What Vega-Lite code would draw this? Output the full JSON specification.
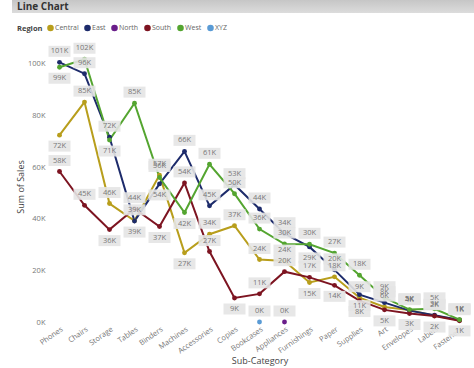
{
  "$schema": "https://vega.github.io/schema/vega-lite/v6.json",
  "padding": {"left": 9, "top": 0, "right": 0, "bottom": 0},
  "spacing": 29,
  "background": "white",
  "config": {
    "font": "Open Sans",
    "view": {"stroke": null}
  },
  "vconcat": [
    {
      "width": 465,
      "height": 13,
      "data": {"values": [{"t": "Line Chart"}]},
      "mark": {"type": "rect", "color": {"gradient": "linear", "x1": 0, "y1": 0, "x2": 0, "y2": 1,
        "stops": [{"offset": 0, "color": "#c6c6c6"}, {"offset": 1, "color": "#dcdcdc"}]}},
      "title": {"text": "Line Chart", "anchor": "start", "orient": "top", "frame": "group", "offset": -12, "dx": 5,
        "baseline": "top", "fontSize": 10, "fontWeight": "bold", "color": "#333", "font": "Open Sans"}
    },
    {
      "spacing": 0,
      "hconcat": [
        {
          "width": 1,
          "height": 271,
          "data": {"values": [{}]},
          "mark": {"type": "point", "opacity": 0}
        },
        {
          "width": 425,
          "height": 271,
          "data": {"values": [
            {"Region": "Central", "SubCategory": "Phones", "Sales": 72400},
            {"Region": "Central", "SubCategory": "Chairs", "Sales": 85200},
            {"Region": "Central", "SubCategory": "Storage", "Sales": 45900},
            {"Region": "Central", "SubCategory": "Tables", "Sales": 39200},
            {"Region": "Central", "SubCategory": "Binders", "Sales": 56900},
            {"Region": "Central", "SubCategory": "Machines", "Sales": 26800},
            {"Region": "Central", "SubCategory": "Accessories", "Sales": 34000},
            {"Region": "Central", "SubCategory": "Copies", "Sales": 37300},
            {"Region": "Central", "SubCategory": "Bookcases", "Sales": 24200},
            {"Region": "Central", "SubCategory": "Appliances", "Sales": 23600},
            {"Region": "Central", "SubCategory": "Furnishings", "Sales": 15300},
            {"Region": "Central", "SubCategory": "Paper", "Sales": 17500},
            {"Region": "Central", "SubCategory": "Supplies", "Sales": 9400},
            {"Region": "Central", "SubCategory": "Art", "Sales": 5800},
            {"Region": "Central", "SubCategory": "Envelopes", "Sales": 4600},
            {"Region": "Central", "SubCategory": "Labels", "Sales": 2400},
            {"Region": "Central", "SubCategory": "Fasteners", "Sales": 800},
            {"Region": "East", "SubCategory": "Phones", "Sales": 100600},
            {"Region": "East", "SubCategory": "Chairs", "Sales": 96200},
            {"Region": "East", "SubCategory": "Storage", "Sales": 71600},
            {"Region": "East", "SubCategory": "Tables", "Sales": 39100},
            {"Region": "East", "SubCategory": "Binders", "Sales": 53500},
            {"Region": "East", "SubCategory": "Machines", "Sales": 66100},
            {"Region": "East", "SubCategory": "Accessories", "Sales": 45000},
            {"Region": "East", "SubCategory": "Copies", "Sales": 53200},
            {"Region": "East", "SubCategory": "Bookcases", "Sales": 43800},
            {"Region": "East", "SubCategory": "Appliances", "Sales": 34200},
            {"Region": "East", "SubCategory": "Furnishings", "Sales": 29100},
            {"Region": "East", "SubCategory": "Paper", "Sales": 20200},
            {"Region": "East", "SubCategory": "Supplies", "Sales": 10600},
            {"Region": "East", "SubCategory": "Art", "Sales": 7500},
            {"Region": "East", "SubCategory": "Envelopes", "Sales": 4400},
            {"Region": "East", "SubCategory": "Labels", "Sales": 2600},
            {"Region": "East", "SubCategory": "Fasteners", "Sales": 800},
            {"Region": "North", "SubCategory": "Appliances", "Sales": 0},
            {"Region": "South", "SubCategory": "Phones", "Sales": 58300},
            {"Region": "South", "SubCategory": "Chairs", "Sales": 45200},
            {"Region": "South", "SubCategory": "Storage", "Sales": 35800},
            {"Region": "South", "SubCategory": "Tables", "Sales": 43900},
            {"Region": "South", "SubCategory": "Binders", "Sales": 37000},
            {"Region": "South", "SubCategory": "Machines", "Sales": 53900},
            {"Region": "South", "SubCategory": "Accessories", "Sales": 27300},
            {"Region": "South", "SubCategory": "Copies", "Sales": 9300},
            {"Region": "South", "SubCategory": "Bookcases", "Sales": 10900},
            {"Region": "South", "SubCategory": "Appliances", "Sales": 19500},
            {"Region": "South", "SubCategory": "Furnishings", "Sales": 17300},
            {"Region": "South", "SubCategory": "Paper", "Sales": 14200},
            {"Region": "South", "SubCategory": "Supplies", "Sales": 8300},
            {"Region": "South", "SubCategory": "Art", "Sales": 4700},
            {"Region": "South", "SubCategory": "Envelopes", "Sales": 3300},
            {"Region": "South", "SubCategory": "Labels", "Sales": 2300},
            {"Region": "South", "SubCategory": "Fasteners", "Sales": 500},
            {"Region": "West", "SubCategory": "Phones", "Sales": 98700},
            {"Region": "West", "SubCategory": "Chairs", "Sales": 101800},
            {"Region": "West", "SubCategory": "Storage", "Sales": 70500},
            {"Region": "West", "SubCategory": "Tables", "Sales": 84800},
            {"Region": "West", "SubCategory": "Binders", "Sales": 56000},
            {"Region": "West", "SubCategory": "Machines", "Sales": 42400},
            {"Region": "West", "SubCategory": "Accessories", "Sales": 61100},
            {"Region": "West", "SubCategory": "Copies", "Sales": 49700},
            {"Region": "West", "SubCategory": "Bookcases", "Sales": 36000},
            {"Region": "West", "SubCategory": "Appliances", "Sales": 30200},
            {"Region": "West", "SubCategory": "Furnishings", "Sales": 30100},
            {"Region": "West", "SubCategory": "Paper", "Sales": 26700},
            {"Region": "West", "SubCategory": "Supplies", "Sales": 18100},
            {"Region": "West", "SubCategory": "Art", "Sales": 9400},
            {"Region": "West", "SubCategory": "Envelopes", "Sales": 4800},
            {"Region": "West", "SubCategory": "Labels", "Sales": 5100},
            {"Region": "West", "SubCategory": "Fasteners", "Sales": 900},
            {"Region": "XYZ", "SubCategory": "Bookcases", "Sales": 0}
          ]},
          "transform": [
            {"calculate": "format(datum.Sales/1000, '.0f') + 'K'", "as": "label"},
            {"calculate": "indexof(['West|Phones','Central|Phones','West|Storage','South|Storage','East|Tables','East|Binders','South|Binders','West|Machines','Central|Machines','South|Copies','East|Furnishings','Central|Furnishings','South|Paper','East|Supplies','South|Supplies','South|Envelopes','South|Labels','Central|Fasteners','South|Art'], datum.Region + '|' + datum.SubCategory) >= 0", "as": "below"}
          ],
          "encoding": {
            "x": {
              "field": "SubCategory", "type": "nominal",
              "sort": ["Phones","Chairs","Storage","Tables","Binders","Machines","Accessories","Copies","Bookcases","Appliances","Furnishings","Paper","Supplies","Art","Envelopes","Labels","Fasteners"],
              "scale": {"type": "point", "padding": 0.5},
              "title": "Sub-Category",
              "axis": {"labelAngle": -35, "domain": false, "ticks": false, "grid": false, "labelFontSize": 7.5,
                "labelColor": "#777", "labelPadding": 3, "titleFontSize": 9, "titleColor": "#444",
                "titleFontWeight": "normal", "titlePadding": 2}
            },
            "y": {
              "field": "Sales", "type": "quantitative",
              "scale": {"domain": [0, 105000]},
              "title": "Sum of Sales",
              "axis": {"values": [0, 20000, 40000, 60000, 80000, 100000], "labelExpr": "datum.value/1000 + 'K'",
                "grid": false, "domain": false, "ticks": false, "labelPadding": 2, "labelFontSize": 7.5,
                "labelColor": "#777", "titleFontSize": 9, "titleColor": "#444", "titleFontWeight": "normal",
                "titlePadding": 2}
            }
          },
          "layer": [
            {
              "mark": {"type": "line", "strokeWidth": 2},
              "encoding": {
                "stroke": {"field": "Region", "type": "nominal", "title": "Region",
                  "scale": {"domain": ["Central","East","North","South","West","XYZ"],
                    "range": ["#b89e1c","#1d2b6b","#6a1e8a","#7d1421","#54a530","#5a9bd5"]},
                  "legend": {"orient": "none", "legendX": 0, "legendY": 19, "direction": "horizontal",
                    "titleOrient": "left", "symbolType": "circle", "symbolSize": 26,
                    "labelFontSize": 7, "labelColor": "#666", "titleFontSize": 7.5, "titleFontWeight": "bold",
                    "titleColor": "#444", "columnPadding": 2, "labelOffset": 1, "titlePadding": 4, "padding": 5}},
                "order": {"value": null}
              }
            },
            {
              "mark": {"type": "point", "filled": true, "size": 24, "opacity": 1},
              "encoding": {
                "color": {"field": "Region", "type": "nominal", "title": "Region",
                  "scale": {"domain": ["Central","East","North","South","West","XYZ"],
                    "range": ["#b89e1c","#1d2b6b","#6a1e8a","#7d1421","#54a530","#5a9bd5"]},
                  "legend": {"orient": "none", "legendX": 0, "legendY": 19, "direction": "horizontal",
                    "titleOrient": "left", "symbolType": "circle", "symbolSize": 26,
                    "labelFontSize": 7, "labelColor": "#666", "titleFontSize": 7.5, "titleFontWeight": "bold",
                    "titleColor": "#444", "columnPadding": 2, "labelOffset": 1, "titlePadding": 4, "padding": 5}}
              }
            },
            {
              "transform": [{"filter": "!datum.below"}],
              "layer": [
                {"mark": {"type": "point", "shape": "M-1,-0.5H1V0.5H-1Z", "filled": true, "size": 484,
                  "color": "#e4e4e4", "opacity": 0.9, "yOffset": -11}},
                {"mark": {"type": "text", "fontSize": 7.5, "color": "#777", "yOffset": -11, "baseline": "middle"},
                  "encoding": {"text": {"field": "label"}}}
              ]
            },
            {
              "transform": [{"filter": "datum.below"}],
              "layer": [
                {"mark": {"type": "point", "shape": "M-1,-0.5H1V0.5H-1Z", "filled": true, "size": 484,
                  "color": "#e4e4e4", "opacity": 0.9, "yOffset": 11}},
                {"mark": {"type": "text", "fontSize": 7.5, "color": "#777", "yOffset": 11, "baseline": "middle"},
                  "encoding": {"text": {"field": "label"}}}
              ]
            }
          ]
        }
      ]
    }
  ]
}
